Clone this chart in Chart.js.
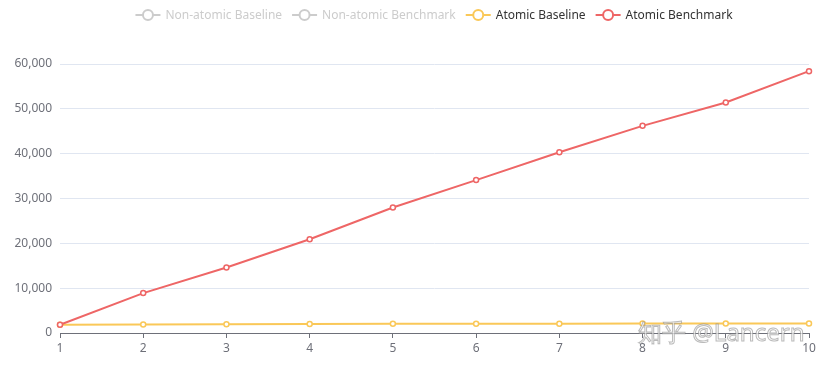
<!DOCTYPE html>
<html>
<head>
<meta charset="utf-8">
<script src="https://cdn.jsdelivr.net/npm/chart.js@4/dist/chart.umd.min.js"></script>
<style>
html,body{margin:0;padding:0;background:#fff;}
#wrap{width:834px;height:369px;position:relative;}
</style>
</head>
<body>
<div id="wrap"><canvas id="c" width="834" height="369"></canvas></div>
<script>
const categories = ['1','2','3','4','5','6','7','8','9','10'];
const seriesNames = ['Non-atomic Baseline','Non-atomic Benchmark','Atomic Baseline','Atomic Benchmark'];
const seriesColors = ['#5470c6','#91cc75','#fac858','#ee6666'];
const seriesHidden = [true, true, false, false];
const nonAtomicBaseline = [];
const nonAtomicBenchmark = [];
const atomicBaseline = [1850, 1900, 1950, 2000, 2050, 2050, 2080, 2100, 2100, 2120];
const atomicBenchmark = [1850, 8900, 14600, 20900, 28000, 34100, 40300, 46200, 51400, 58400];
const yTicks = [0, 10000, 20000, 30000, 40000, 50000, 60000];
const watermark = '知乎 @Lancern';

const FONT = '"Microsoft YaHei", "Noto Sans", "DejaVu Sans", sans-serif';
const seriesData = [nonAtomicBaseline, nonAtomicBenchmark, atomicBaseline, atomicBenchmark];

const datasets = seriesNames.map((name, i) => ({
  label: name,
  data: seriesData[i],
  hidden: seriesHidden[i],
  borderColor: seriesColors[i],
  backgroundColor: '#fff',
  pointBackgroundColor: '#fff',
  pointBorderColor: seriesColors[i],
  pointRadius: 2.5,
  pointBorderWidth: 1.5,
  borderWidth: 2,
  tension: 0,
  fill: false
}));
// draw the red series above yellow like the reference
datasets.reverse();

const legendPlugin = {
  id: 'echartsLegend',
  afterDraw(chart) {
    const ctx = chart.ctx;
    ctx.save();
    ctx.font = '12px ' + FONT;
    const iconW = 25, gapIconText = 5, itemGap = 10;
    const widths = seriesNames.map(n => iconW + gapIconText + ctx.measureText(n).width);
    const total = widths.reduce((a, b) => a + b, 0) + itemGap * (seriesNames.length - 1);
    let x = 434 - total / 2;
    const y = 15;
    seriesNames.forEach((n, i) => {
      const active = !seriesHidden[i];
      const col = active ? seriesColors[i] : '#ccc';
      ctx.strokeStyle = col;
      ctx.lineWidth = 2;
      ctx.beginPath();
      ctx.moveTo(x, y); ctx.lineTo(x + iconW, y);
      ctx.stroke();
      ctx.beginPath();
      ctx.arc(x + iconW / 2, y, 5, 0, Math.PI * 2);
      ctx.fillStyle = '#fff';
      ctx.fill();
      ctx.stroke();
      ctx.fillStyle = active ? '#333' : '#ccc';
      ctx.textBaseline = 'middle';
      ctx.textAlign = 'left';
      ctx.fillText(n, x + iconW + gapIconText, y + 1);
      x += widths[i] + itemGap;
    });
    // watermark
    ctx.font = '24px ' + FONT;
    ctx.textBaseline = 'middle';
    ctx.textAlign = 'left';
    ctx.lineWidth = 1;
    ctx.strokeStyle = 'rgba(130,130,130,0.55)';
    ctx.fillStyle = 'rgba(255,255,255,0.75)';
    ctx.fillText(watermark, 638, 334);
    ctx.strokeText(watermark, 638, 334);
    ctx.restore();
  }
};

new Chart(document.getElementById('c'), {
  type: 'line',
  data: { labels: categories, datasets },
  options: {
    responsive: false,
    animation: false,
    events: [],
    layout: { padding: { left: 0, right: 25, top: 64, bottom: 0 } },
    plugins: { legend: { display: false }, tooltip: { enabled: false } },
    scales: {
      x: {
        offset: false,
        afterFit(s) { s.height = 36; },
        border: { display: true, color: '#6E7079', width: 1 },
        grid: { display: true, drawOnChartArea: false, drawTicks: true, tickLength: 5, color: '#6E7079' },
        ticks: { color: '#6E7079', font: { size: 12, family: FONT }, padding: 3, maxRotation: 0, autoSkip: false }
      },
      y: {
        min: 0, max: 60000,
        afterFit(s) { s.width = 60; },
        afterBuildTicks(s) { s.ticks = yTicks.map(v => ({ value: v })); },
        border: { display: false },
        grid: { color: '#E0E6F1', drawTicks: false, lineWidth: 1 },
        ticks: {
          color: '#6E7079', font: { size: 12, family: FONT }, padding: 8,
          callback: v => v.toLocaleString('en-US')
        }
      }
    }
  },
  plugins: [legendPlugin]
});
</script>
</body>
</html>
